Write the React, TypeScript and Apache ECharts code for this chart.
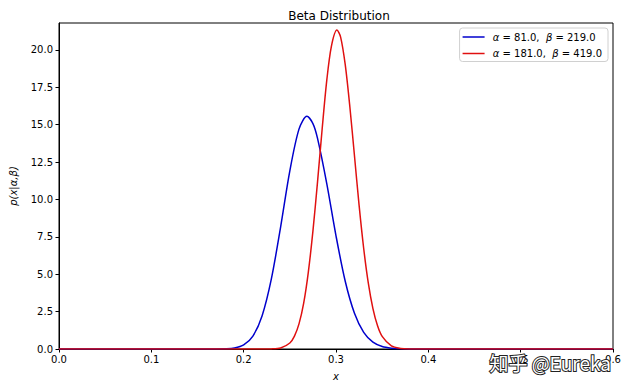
import React, { useEffect, useRef } from "react";
import * as echarts from "echarts";

const titleText = "Beta Distribution";
const seriesNames = ["a81", "a181"];
const legendLabels = [
  "{i|α} = 81.0,  {i|β} = 219.0",
  "{i|α} = 181.0,  {i|β} = 419.0",
];
const seriesColors = ["#0000cc", "#e01010"];

const blueX = [0, 0.1, 0.15, 0.17, 0.18, 0.19, 0.2, 0.21, 0.22, 0.23, 0.24, 0.25, 0.26, 0.2685, 0.275, 0.28, 0.29, 0.3, 0.31, 0.32, 0.33, 0.34, 0.35, 0.36, 0.37, 0.38, 0.4, 0.5, 0.6];
const blueY = [0, 0, 0, 0.002, 0.013, 0.067, 0.272, 0.867, 2.23, 4.69, 8.15, 11.91, 14.72, 15.56, 15.07, 14.08, 11.06, 7.57, 4.53, 2.39, 1.11, 0.454, 0.165, 0.054, 0.016, 0.004, 0, 0, 0];

const redX = [0, 0.1, 0.2, 0.22, 0.23, 0.24, 0.25, 0.255, 0.26, 0.265, 0.27, 0.275, 0.28, 0.285, 0.29, 0.295, 0.301, 0.305, 0.31, 0.315, 0.32, 0.325, 0.33, 0.335, 0.34, 0.345, 0.35, 0.36, 0.37, 0.38, 0.4, 0.5, 0.6];
const redY = [0, 0, 0, 0.001, 0.007, 0.065, 0.398, 0.862, 1.7, 3.07, 5.13, 7.88, 11.18, 14.71, 17.96, 20.24, 21.33, 20.86, 19.01, 16.2, 12.92, 9.62, 6.72, 4.4, 2.7, 1.55, 0.842, 0.206, 0.04, 0.006, 0, 0, 0];

const yTicks = [0, 2.5, 5, 7.5, 10, 12.5, 15, 17.5, 20];
const xTicks = [0, 0.1, 0.2, 0.3, 0.4, 0.5, 0.6];
const yMax = 21.8;
const watermark = "知乎 @Eureka";

const FONT = "DejaVu Sans";

export default function App() {
  const ref = useRef<HTMLDivElement>(null);
  useEffect(() => {
    if (!ref.current) return;
    const chart = echarts.init(ref.current, undefined, { renderer: "svg" });
    const pairs = (xs: number[], ys: number[]) => xs.map((x, i) => [x, ys[i]]);
    const labelMap: Record<string, string> = {};
    seriesNames.forEach((n, i) => (labelMap[n] = legendLabels[i]));
    chart.setOption({
      animation: false,
      backgroundColor: "#fff",
      textStyle: { fontFamily: FONT },
      title: {
        text: titleText,
        left: 334,
        textAlign: "center",
        top: 5,
        textStyle: { fontFamily: FONT, fontSize: 12, fontWeight: "normal", color: "#000" },
      },
      legend: {
        data: seriesNames,
        orient: "vertical",
        right: 19,
        top: 28,
        padding: [4, 6, 3, 3],
        itemGap: 6.5,
        itemWidth: 22,
        itemHeight: 12,
        icon: "path://M0,5.25L22,5.25L22,6.75L0,6.75Z",
        borderColor: "#d0d0d0",
        borderWidth: 1,
        borderRadius: 3,
        backgroundColor: "rgba(255,255,255,0.8)",
        formatter: (n: string) => " " + labelMap[n],
        textStyle: {
          fontFamily: FONT,
          fontSize: 10,
          color: "#000",
          rich: { i: { fontFamily: FONT, fontStyle: "italic", fontSize: 10, color: "#000" } },
        },
      },
      grid: {
        left: 55,
        right: 14,
        top: 23,
        bottom: 38,
        show: true,
        borderColor: "#000",
        borderWidth: 1,
        backgroundColor: "transparent",
      },
      xAxis: {
        type: "value",
        min: 0,
        max: 0.6,
        interval: 0.1,
        name: "x",
        nameLocation: "middle",
        nameGap: 22,
        nameTextStyle: { fontFamily: FONT, fontStyle: "italic", fontSize: 10, color: "#000" },
        axisLine: { show: true, lineStyle: { color: "#000", width: 1 } },
        axisTick: { show: true, inside: false, length: 3.5, lineStyle: { color: "#000" }, customValues: xTicks },
        axisLabel: {
          color: "#000",
          fontSize: 10,
          fontFamily: FONT,
          margin: 5,
          customValues: xTicks,
          formatter: (v: number) => v.toFixed(1),
        },
        splitLine: { show: false },
      },
      yAxis: {
        type: "value",
        min: 0,
        max: yMax,
        interval: 2.5,
        name: "p(x|α,β)",
        nameLocation: "middle",
        nameGap: 41,
        nameRotate: 90,
        nameTextStyle: { fontFamily: FONT, fontStyle: "italic", fontSize: 10, color: "#000" },
        axisLine: { show: true, lineStyle: { color: "#000", width: 1 } },
        axisTick: { show: true, inside: false, length: 3.5, lineStyle: { color: "#000" }, customValues: yTicks },
        axisLabel: {
          color: "#000",
          fontSize: 10,
          fontFamily: FONT,
          margin: 6,
          customValues: yTicks,
          formatter: (v: number) => v.toFixed(1),
        },
        splitLine: { show: false },
      },
      series: [
        {
          name: seriesNames[0],
          type: "line",
          data: pairs(blueX, blueY),
          showSymbol: false,
          symbol: "none",
          smooth: 0.3,
          color: seriesColors[0],
          lineStyle: { color: seriesColors[0], width: 1.5 },
        },
        {
          name: seriesNames[1],
          type: "line",
          data: pairs(redX, redY),
          showSymbol: false,
          symbol: "none",
          smooth: 0.3,
          color: seriesColors[1],
          lineStyle: { color: seriesColors[1], width: 1.5 },
        },
      ],
      graphic: [
        {
          type: "text",
          right: 15,
          top: 352,
          z: 100,
          style: {
            text: watermark,
            fontFamily: "Noto Sans CJK SC",
            fontSize: 19,
            fill: "#ffffff",
            stroke: "#222222",
            lineWidth: 2,
          },
        },
      ],
    });
    return () => chart.dispose();
  }, []);
  return <div ref={ref} style={{ width: 627, height: 387, position: "fixed", left: 0, top: 0 }} />;
}
